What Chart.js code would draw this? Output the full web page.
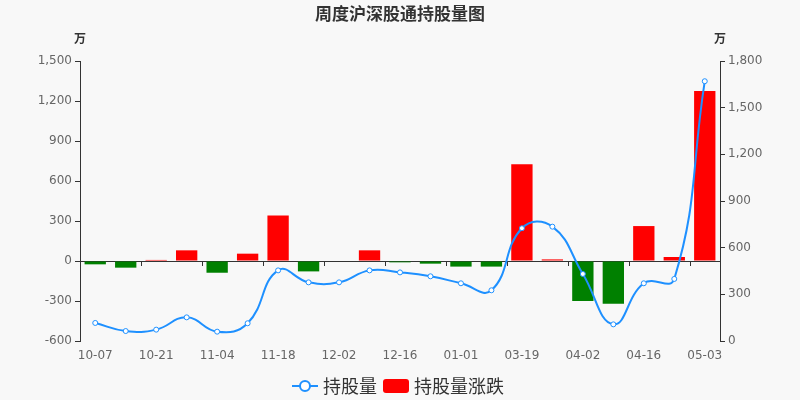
<!DOCTYPE html>
<html>
<head>
<meta charset="utf-8">
<script src="https://cdn.jsdelivr.net/npm/chart.js@4.4.1/dist/chart.umd.min.js"></script>
<style>
  html, body { margin: 0; padding: 0; background: #f8f8f8; }
  #wrap { width: 800px; height: 400px; }
</style>
</head>
<body>
<div id="wrap"><canvas id="holdChart"></canvas></div>
<script>
// data (万)
const weeks = ['10-07', '10-14', '10-21', '10-28', '11-04', '11-11', '11-18', '11-25', '12-02', '12-09',
    '12-16', '12-23', '01-01', '03-12', '03-19', '03-26', '04-02', '04-09', '04-16', '04-23', '05-03'];
const holding = [116, 64, 73, 152, 60, 114, 454, 377, 377, 454,
    441, 416, 371, 326, 725, 735, 431, 107, 371, 399, 1670];
const change = [-25, -50, 8, 80, -88, 55, 342, -78, 0, 80,
    -10, -20, -42, -42, 725, 12, -300, -320, 262, 30, 1275];
const leftTicks = [-600, 1500, 300];
const rightTicks = [0, 1800, 300];

const FONT = '"DejaVu Sans", "Noto Sans CJK SC", sans-serif';
const CJK = '"Noto Sans CJK SC", sans-serif';
const axisColor = '#333';

// legend icons
function lineIcon() {
    const c = document.createElement('canvas');
    c.width = 26; c.height = 14;
    const g = c.getContext('2d');
    g.strokeStyle = '#1e90ff';
    g.lineWidth = 2;
    g.beginPath(); g.moveTo(0, 7); g.lineTo(26, 7); g.stroke();
    g.fillStyle = '#fff';
    g.beginPath(); g.arc(13, 7, 5, 0, Math.PI * 2); g.fill(); g.stroke();
    return c;
}
function barIcon() {
    const c = document.createElement('canvas');
    c.width = 26; c.height = 14;
    const g = c.getContext('2d');
    g.fillStyle = '#ff0000';
    g.beginPath(); g.roundRect(0, 0, 26, 14, 3); g.fill();
    return c;
}
const icons = [lineIcon(), barIcon()];

// title, unit labels, zero line with ticks
const decor = {
    id: 'decor',
    beforeDatasetsDraw(chart) {
        const { ctx, chartArea, scales } = chart;
        const y0 = scales.y.getPixelForValue(0);
        ctx.save();
        ctx.strokeStyle = axisColor;
        ctx.lineWidth = 1;
        ctx.beginPath();
        ctx.moveTo(chartArea.left, y0 + 0.5);
        ctx.lineTo(chartArea.right, y0 + 0.5);
        const step = scales.x.getPixelForValue(1) - scales.x.getPixelForValue(0);
        for (let i = 0; i <= weeks.length; i += 2) {
            const x = Math.round(scales.x.getPixelForValue(i) - step / 2) + 0.5;
            ctx.moveTo(x, y0);
            ctx.lineTo(x, y0 + 5);
        }
        ctx.stroke();
        ctx.restore();
    },
    afterDraw(chart) {
        const { ctx, chartArea } = chart;
        ctx.save();
        ctx.fillStyle = '#333';
        ctx.textAlign = 'center';
        ctx.textBaseline = 'middle';
        ctx.font = 'bold 17px ' + CJK;
        ctx.fillText('周度沪深股通持股量图', 400, 14);
        ctx.font = 'bold 12px ' + CJK;
        ctx.fillText('万', chartArea.left, 38);
        ctx.fillText('万', chartArea.right, 38);
        ctx.restore();
    }
};

new Chart(document.getElementById('holdChart'), {
    data: {
        labels: weeks,
        datasets: [
            {
                type: 'line',
                label: '持股量',
                data: holding,
                yAxisID: 'y1',
                borderColor: '#1e90ff',
                borderWidth: 2,
                tension: 0.45,
                pointRadius: 2.5,
                pointBorderWidth: 1,
                pointBackgroundColor: '#fff',
                pointBorderColor: '#1e90ff',
                order: 0
            },
            {
                type: 'bar',
                label: '持股量涨跌',
                data: change,
                yAxisID: 'y',
                backgroundColor: change.map(v => v >= 0 ? '#ff0000' : '#008000'),
                categoryPercentage: 0.7,
                barPercentage: 1,
                order: 1
            }
        ]
    },
    options: {
        responsive: true,
        maintainAspectRatio: false,
        animation: false,
        layout: { padding: { top: 61, left: 0, right: 0, bottom: -5 } },
        plugins: {
            title: { display: false },
            tooltip: { enabled: false },
            legend: {
                position: 'bottom',
                labels: {
                    font: { family: CJK, size: 18 },
                    color: '#333',
                    usePointStyle: true,
                    padding: 10,
                    generateLabels(chart) {
                        return chart.data.datasets.map((ds, i) => ({
                            text: ds.label,
                            datasetIndex: i,
                            pointStyle: icons[i],
                            fontColor: '#333',
                            hidden: false
                        }));
                    }
                }
            }
        },
        scales: {
            x: {
                grid: { display: false },
                border: { display: false },
                afterFit(scale) { scale.height = 26; },
                ticks: {
                    autoSkip: false,
                    maxRotation: 0,
                    color: '#666',
                    padding: 0,
                    font: { family: FONT, size: 12 },
                    callback(v, i) { return i % 2 === 0 ? weeks[i] : ''; }
                }
            },
            y: {
                position: 'left',
                min: leftTicks[0],
                max: leftTicks[1],
                afterFit(scale) { scale.width = 80; },
                border: { display: true, color: axisColor },
                grid: { drawOnChartArea: false, tickLength: 5, color: axisColor },
                ticks: {
                    stepSize: leftTicks[2],
                    color: '#666',
                    padding: 3,
                    font: { family: FONT, size: 12 }
                }
            },
            y1: {
                position: 'right',
                min: rightTicks[0],
                max: rightTicks[1],
                afterFit(scale) { scale.width = 80; },
                border: { display: true, color: axisColor },
                grid: { drawOnChartArea: false, tickLength: 5, color: axisColor },
                ticks: {
                    stepSize: rightTicks[2],
                    color: '#666',
                    padding: 3,
                    font: { family: FONT, size: 12 }
                }
            }
        }
    },
    plugins: [decor]
});
</script>
</body>
</html>
